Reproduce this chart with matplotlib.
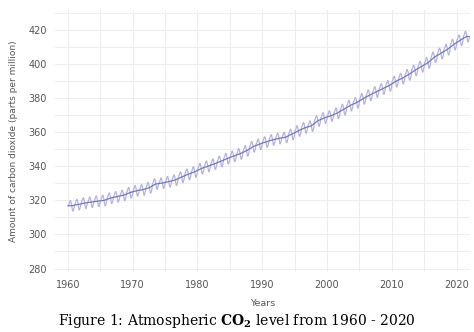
import numpy as np
import matplotlib
matplotlib.use("Agg")
import matplotlib.pyplot as plt

# annual mean CO2 (ppm)
years = list(range(1960, 2022))
annual = [316.9, 317.6, 318.5, 319.0, 319.6, 320.0, 321.4, 322.2, 323.0, 324.6,
          325.7, 326.3, 327.5, 329.7, 330.2, 331.1, 332.0, 333.8, 335.4, 336.8,
          338.7, 340.1, 341.4, 343.0, 344.6, 346.0, 347.4, 349.2, 351.6, 353.1,
          354.4, 355.6, 356.5, 357.1, 358.9, 360.9, 362.7, 363.8, 366.8, 368.5,
          369.7, 371.3, 373.5, 375.8, 377.5, 379.8, 381.9, 383.8, 385.6, 387.4,
          389.9, 391.7, 393.9, 396.5, 398.7, 400.9, 404.2, 406.5, 408.7, 411.7,
          414.2, 416.4]
# monthly deviation from the annual mean (Jan..Dec)
season = [0.0, 0.6, 1.4, 2.6, 3.1, 2.4, 0.9, -1.2, -3.0, -3.2, -2.0, -0.9]

t = []
monthly = []
trend = []
for y, a in zip(years, annual):
    for m, s in enumerate(season):
        t.append(y + (m + 0.5) / 12)
        monthly.append(a + s)
        trend.append(a)
# smooth the trend line a little so it doesn't step
trend = np.convolve(trend, np.ones(12) / 12, mode="same")
trend[:6] = annual[0]
trend[-6:] = annual[-1]

plt.rcParams['mathtext.fontset'] = 'dejavuserif'

fig = plt.figure(figsize=(4.74, 3.32), dpi=100)
ax = fig.add_axes([0.116, 0.181, 0.876, 0.789])

ax.plot(t, monthly, color='#b4b4e0', lw=0.9)
ax.plot(t, trend, color='#7878b0', lw=0.9)

ax.set_xlim(1958, 2022.1)
ax.set_ylim(278, 432)
ax.set_xticks(range(1960, 2021, 10))
ax.set_yticks(range(280, 421, 20))
ax.set_xticks(range(1965, 2021, 10), minor=True)
ax.set_yticks(range(290, 431, 20), minor=True)
ax.grid(True, which='both', color='#ededed', lw=0.8)
ax.set_axisbelow(True)
for sp in ax.spines.values():
    sp.set_visible(False)
ax.tick_params(which='both', length=0, labelsize=7, labelcolor='#555555', pad=6)

ax.set_xlabel('Years', fontsize=6.8, color='#555555', labelpad=6)
ax.set_ylabel('Amount of carbon dioxide (parts per million)', fontsize=6.5,
              color='#555555', labelpad=7)

fig.text(0.5, 0.005, r'Figure 1: Atmospheric $\mathbf{CO_2}$ level from 1960 - 2020',
         ha='center', va='bottom', fontsize=10, family='DejaVu Serif')

fig.savefig('out.png', dpi=100)
